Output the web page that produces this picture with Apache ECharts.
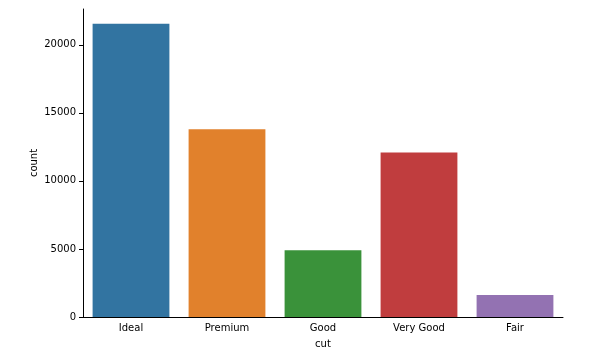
<!DOCTYPE html>
<html><head><meta charset="utf-8">
<script src="https://cdn.jsdelivr.net/npm/echarts@6/dist/echarts.min.js"></script>
<style>html,body{margin:0;padding:0;background:#fff}#c{width:609px;height:361px}</style>
</head><body><div id="c"></div>
<script>
const categories = ["Ideal", "Premium", "Good", "Very Good", "Fair"];
const counts = [21551, 13791, 4906, 12082, 1610];
const colors = ["#3274a1", "#e1812c", "#3a923a", "#c03d3e", "#9372b2"];
const yTicks = [0, 5000, 10000, 15000, 20000];

const chart = echarts.init(document.getElementById('c'), null, {renderer: 'canvas'});
const font = 'DejaVu Sans';
chart.setOption({
  animation: false,
  grid: {left: 83, top: 9, right: 46, bottom: 44, containLabel: false},
  xAxis: {
    type: 'category', data: categories, name: 'cut', nameLocation: 'middle', nameGap: 22,
    nameMoveOverlap: false,
    nameTextStyle: {fontFamily: font, fontSize: 10, color: '#000'},
    axisLine: {lineStyle: {color: '#000', width: 1}},
    axisTick: {alignWithLabel: true, length: 4, lineStyle: {color: '#000'}},
    axisLabel: {fontFamily: font, fontSize: 10, color: '#000', margin: 6}
  },
  yAxis: {
    type: 'value', min: 0, max: counts[0] * 1.05, interval: 5000,
    name: 'count', nameLocation: 'middle', nameGap: 44, nameMoveOverlap: false,
    nameTextStyle: {fontFamily: font, fontSize: 10, color: '#000'},
    axisLine: {show: true, lineStyle: {color: '#000', width: 1}},
    axisTick: {show: true, length: 4, lineStyle: {color: '#000'}},
    axisLabel: {fontFamily: font, fontSize: 10, color: '#000', margin: 7, showMaxLabel: false,
      formatter: v => yTicks.includes(v) ? String(v) : ''},
    splitLine: {show: false}
  },
  series: [{
    type: 'bar', barCategoryGap: '20%',
    data: counts.map((v, i) => ({value: v, itemStyle: {color: colors[i]}}))
  }]
});
</script></body></html>
